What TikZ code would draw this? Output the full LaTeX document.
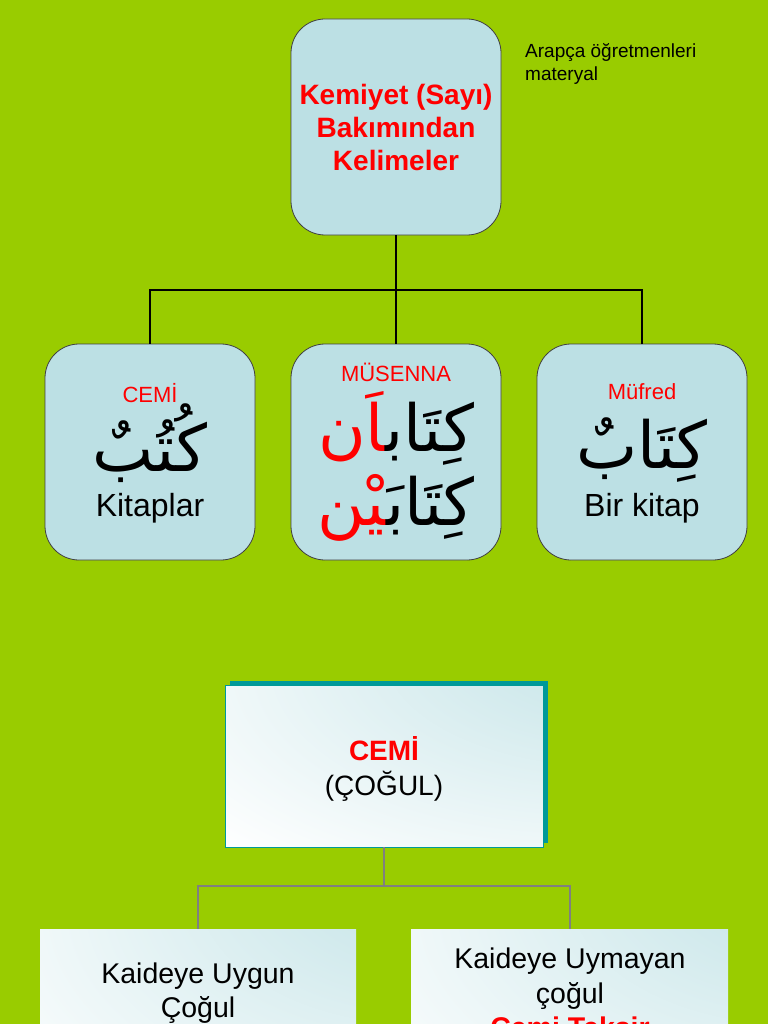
\documentclass[tikz,border=0pt]{standalone}
\usepackage{fontspec}
\setmainfont{Liberation Sans}
\newfontfamily\arabicfont[Script=Arabic]{DejaVu Sans}
\TeXXeTstate=1
\usepackage{tikz}
\usetikzlibrary{positioning}
\definecolor{bggreen}{HTML}{99CC00}
\definecolor{boxblue}{HTML}{BCE0E4}
\definecolor{shadowteal}{HTML}{009999}
\pgfdeclareradialshading{glow}{\pgfpoint{48bp}{48bp}}{color(0bp)=(boxblue);color(12bp)=(boxblue!85!white);color(70bp)=(white);color(140bp)=(white)}
\tikzset{card/.style={draw=black!75,line width=0.8pt,fill=boxblue,rounded corners=34pt,minimum width=210pt,minimum height=216pt,inner sep=0pt,align=center}}
\tikzset{plate/.style={draw=shadowteal,line width=0.8pt,shading=glow,inner sep=0pt,align=center}}
\tikzset{etiket/.style={text=red,inner sep=0pt,font=\fontsize{22}{26}\selectfont}}
\tikzset{anlam/.style={inner sep=0pt,font=\fontsize{32}{38}\selectfont}}
\tikzset{arapca/.style={inner sep=0pt,font=\fontsize{65}{75}\arabicfont}}
\tikzset{alt/.style={inner sep=0pt,align=center,font=\fontsize{28.5}{34.5}\selectfont}}
\tikzset{dal/.style={line width=2pt},gridal/.style={line width=2pt,draw=black!50}}

\begin{document}
\begin{tikzpicture}[x=1pt,y=-1pt]
\clip (0,0) rectangle (768,1024);
\fill[bggreen] (0,0) rectangle (768,1024);
% ust kisim
\node[card,text=red,font=\fontsize{28}{33}\selectfont\bfseries] (kemiyet) at (396,127) {Kemiyet (Sayı)\\Bakımından\\Kelimeler};
\node[anchor=north west,inner sep=0pt,align=left,font=\fontsize{19}{23}\selectfont] (not) at (525,43) {Arapça öğretmenleri\\materyal};
\node[card] (cemi) at (150,452) {};
\node[card] (musenna) at (396,452) {};
\node[card] (mufred) at (642,452) {};
\coordinate (kol) at (396,290);
\draw[dal] (kemiyet) -- (kol);
\draw[dal] (kol) -| (cemi);
\draw[dal] (kol) -- (musenna);
\draw[dal] (kol) -| (mufred);
% kutu icleri
\node[etiket] (cemiad) at (150,393) {CEMİ};
\node[arapca] (kutub) at (150,443) {\beginR كُتُبٌ\endR};
\node[anlam] (kitaplar) at (150,508) {Kitaplar};
\node[etiket] (musennaad) at (396,372) {MÜSENNA};
\node[arapca] (kitaban) at (396,428) {{\color{red}^^^^200dاَن}كِتَاب^^^^200d};
\node[arapca] (kitabeyn) at (396,508) {{\color{red}^^^^200dيْن}كِتَابَ^^^^200d};
\node[etiket] (mufredad) at (642,392) {Müfred};
\node[arapca] (kitab) at (642,450) {\beginR كِتَابٌ\endR};
\node[anlam] (birkitap) at (642,508) {Bir kitap};
% alt kisim
\node[fill=shadowteal,minimum width=318pt,minimum height=162pt] (golge) at (389,762) {};
\node[plate,minimum width=318pt,minimum height=162pt] (cogul) at (384,766) {};
\node[inner sep=0pt,align=center,font=\fontsize{28}{35}\selectfont] (cogultxt) at (384,769) {{\bfseries\color{red}CEMİ}\\(ÇOĞUL)};
\node[plate,draw=none,minimum width=316pt,minimum height=190pt] (uygun) at (198,1024) {};
\node[plate,draw=none,minimum width=317pt,minimum height=190pt] (uymayan) at (569.5,1024) {};
\coordinate (kol2) at (384,886);
\draw[gridal] (cogul) -- (kol2);
\draw[gridal] (kol2) -| (uygun);
\draw[gridal] (kol2) -| (uymayan);
\node[alt] (uyguntxt) at (198,993) {Kaideye Uygun\\Çoğul};
\node[alt] (uymayantxt) at (570,993) {Kaideye Uymayan\\çoğul\\{\bfseries\color{red}Cemi Teksir}};
\end{tikzpicture}
\end{document}
